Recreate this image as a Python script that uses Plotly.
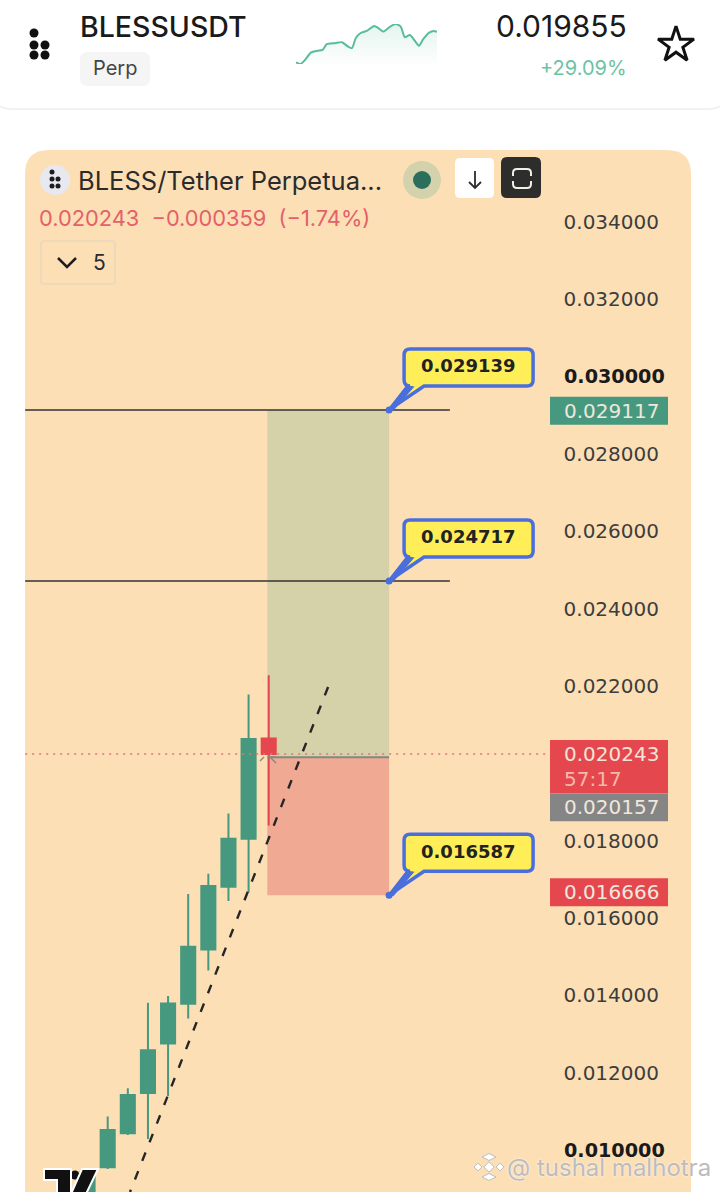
import plotly.graph_objects as go

# --- candles, oldest first, red one last ---
bar_idx = [-9, -8, -7, -6, -5, -4, -3, -2, -1, 0]
bar_open = [0.008500, 0.009552, 0.010432, 0.011474, 0.012757, 0.013784, 0.015188, 0.016810, 0.018048, 0.020645]
bar_high = [0.009450, 0.010869, 0.011598, 0.013810, 0.013985, 0.016618, 0.017143, 0.018705, 0.021778, 0.022277]
bar_low = [0.008400, 0.009509, 0.010388, 0.010282, 0.011397, 0.013398, 0.014642, 0.016442, 0.016662, 0.018390]
bar_close = [0.009431, 0.010517, 0.011422, 0.012581, 0.013791, 0.015258, 0.016828, 0.018048, 0.020627, 0.020243]

# --- trendline and long position tool ---
trend_x = [2.95, -6.89]
trend_y = [0.021974, 0.008914]
tp_levels = [0.029139, 0.024717]
stop_level = 0.016587
entry_level = 0.020157
last_price = 0.020243
pos_x = [-0.07, 5.98]
level_x = [-12.1, 9.0]
dotted_x = [-12.1, 14.0]

# --- price axis ---
tick_vals = [0.034, 0.032, 0.028, 0.026, 0.024, 0.022, 0.018, 0.016, 0.014, 0.012]
tick_text = ["0.034000", "0.032000", "0.028000", "0.026000", "0.024000",
             "0.022000", "0.018000", "0.016000", "0.014000", "0.012000"]
bold_vals = [0.030, 0.010]
bold_text = ["0.030000", "0.010000"]

# --- price tags on the axis ---
tag_vals = [0.029117, 0.020157, 0.016666]
tag_text = ["0.029117", "0.020157", "0.016666"]
tag_colors = ["#46997f", "#858585", "#e5474f"]
tag_push = [0, -50, 0]  # grey tag gets pushed under the red one

# --- header sparkline ---
spark_x = [645, 655, 665, 678, 692, 703, 712, 730, 745, 758, 767, 775, 785, 800, 815, 825, 835, 850, 862, 873, 882, 893, 905, 913, 922, 935, 945, 952]
spark_y = [12, 7, 20, 42, 47, 50, 67, 70, 73, 60, 55, 85, 100, 108, 122, 115, 105, 120, 128, 120, 88, 95, 75, 62, 82, 102, 107, 104]

GREEN = "#46997f"
RED = "#e5474f"
PANEL = "#fddfb6"
BLUE = "#4a6fdc"
TICK_FONT = "DejaVu Sans"
HEAD_FONT = "Inter"

fig = go.Figure()

fig.add_trace(go.Scatter(x=trend_x, y=trend_y, mode="lines", hoverinfo="skip",
                         line=dict(color="#262626", width=2.4, dash="9px,11px")))
for lvl in tp_levels:
    fig.add_trace(go.Scatter(x=level_x, y=[lvl, lvl], mode="lines", hoverinfo="skip",
                             line=dict(color="#333333", width=1.6)))
fig.add_trace(go.Scatter(x=pos_x, y=[entry_level, entry_level], mode="lines", hoverinfo="skip",
                         line=dict(color="#7f8a80", width=2)))
fig.add_trace(go.Scatter(x=dotted_x, y=[last_price, last_price], mode="lines", hoverinfo="skip",
                         line=dict(color="#e5737a", width=1.5, dash="2px,5px")))

fig.add_trace(go.Candlestick(x=bar_idx, open=bar_open, high=bar_high, low=bar_low, close=bar_close,
                             increasing=dict(line=dict(color=GREEN, width=2), fillcolor=GREEN),
                             decreasing=dict(line=dict(color=RED, width=2), fillcolor=RED),
                             hoverinfo="skip"))

fig.add_trace(go.Scatter(x=[pos_x[1]] * 3, y=tp_levels + [stop_level], mode="markers", hoverinfo="skip",
                         marker=dict(color=BLUE, size=7)))

# sparkline has its own small axes
fig.add_trace(go.Scatter(x=spark_x, y=spark_y, xaxis="x2", yaxis="y2", mode="lines", hoverinfo="skip",
                         line=dict(color="#58bd9a", width=2, shape="spline", smoothing=0.6), fill="tozeroy",
                         fillgradient=dict(type="vertical",
                                           colorscale=[[0, "rgba(88,189,154,0)"], [1, "rgba(88,189,154,0.16)"]])))

# page furniture is placed on a pixel sized overlay axis pair
def dots(xs, ys, size, color, symbol="circle", line=None):
    fig.add_trace(go.Scatter(x=xs, y=ys, xaxis="x3", yaxis="y3", mode="markers", hoverinfo="skip",
                             marker=dict(color=color, size=size, symbol=symbol, line=line or dict(width=0))))

dots([34, 34, 45, 34, 45], [33, 45, 45, 55, 55], 9, "#111111")
dots([55], [180], 30, "#e8e8f0")
dots([52, 52, 58, 52, 58], [172, 179, 179, 186, 186], 5, "#1d1d1d")
dots([422], [180], 38, "#d3d2ad")
dots([422], [180], 18, "#2b6e5b")
dots([676], [45], 27, "#111111", "star-open", dict(color="#111111", width=3))
dots([489], [1167], 8, "white", "diamond", dict(color="#bdbdbd", width=1))
dots([478, 500], [1167, 1167], 6, "white", "diamond", dict(color="#bdbdbd", width=1))
dots([489, 489], [1157, 1177], 10, "white", "diamond-wide", dict(color="#bdbdbd", width=1))

def rrect(x0, y0, x1, y1, r):
    return (f"M {x0+r} {y0} L {x1-r} {y0} Q {x1} {y0} {x1} {y0+r} L {x1} {y1-r} Q {x1} {y1} {x1-r} {y1} "
            f"L {x0+r} {y1} Q {x0} {y1} {x0} {y1-r} L {x0} {y0+r} Q {x0} {y0} {x0+r} {y0} Z")

def page_shape(path, fill="rgba(0,0,0,0)", line_color="rgba(0,0,0,0)", width=0):
    fig.add_shape(type="path", path=path, xref="x3", yref="y3", fillcolor=fill, layer="above",
                  line=dict(color=line_color, width=width))

# below-layer shapes on x3/y3 would cover the candles, so these go on paper
def paper_shape(path, fill="rgba(0,0,0,0)", line_color="rgba(0,0,0,0)", width=0):
    out = []
    is_x = True
    for tok in path.split():
        if tok.isalpha():
            out.append(tok)
        else:
            out.append(str(float(tok) / 720 if is_x else 1 - float(tok) / 1192))
            is_x = not is_x
    fig.add_shape(type="path", path=" ".join(out), xref="paper", yref="paper", fillcolor=fill, layer="below",
                  line=dict(color=line_color, width=width))

# panel and header card
paper_shape("M 25 1200 L 25 174 Q 25 150 49 150 L 667 150 Q 691 150 691 174 L 691 1200 Z", PANEL)
paper_shape("M 0 106 Q 3 109 12 109 L 708 109 Q 717 109 720 106", line_color="#eeeeee", width=1.5)
paper_shape(rrect(80, 52, 150, 86, 8), "#f5f5f5")

# long position zones
fig.add_shape(type="rect", x0=pos_x[0], x1=pos_x[1], y0=entry_level, y1=tp_levels[0],
              fillcolor="#d5d1a9", line=dict(width=0), layer="below")
fig.add_shape(type="rect", x0=pos_x[0], x1=pos_x[1], y0=stop_level, y1=entry_level,
              fillcolor="#f0a993", line=dict(width=0), layer="below")

# small grey marks at the entry
page_shape("M 260 761 L 264 757", line_color="#8a8a80", width=1.5)
page_shape("M 276 763 L 270 757 L 276 757", line_color="#8a8a80", width=1.5)

# buttons
page_shape(rrect(455, 158, 494, 198, 5), "white")
page_shape("M 475 171 L 475 188 M 469 182 L 475 188 L 481 182", line_color="#2d2d2b", width=1.8)
page_shape(rrect(501, 157, 541, 198, 6), "#2d2d2b")
page_shape("M 513 176 L 513 173 Q 513 169 517 169 L 527 169 Q 531 169 531 173 L 531 176 "
           "M 513 181 L 513 184 Q 513 188 517 188 L 527 188 Q 531 188 531 184 L 531 181",
           line_color="#f1eee6", width=2)
page_shape(rrect(41, 241, 115, 284, 3), line_color="#ead8bd", width=1.5)
page_shape("M 58 258 L 67 267 L 76 258", line_color="#1d1d1d", width=2.5)

# callouts, anchored to the level they mark (path in pixels, y upward)
callout = ("M 19 24 L 1 1 L 35 24 L 138 24 Q 144 24 144 30 L 144 55 Q 144 61 138 61 "
           "L 21 61 Q 15 61 15 55 L 15 30 Q 15 24 21 24 Z")
pointer = "M 1 1 L 18 24 L 24 23 L 4 0 Z"
for lvl in tp_levels + [stop_level]:
    fig.add_shape(type="path", path=callout, xsizemode="pixel", ysizemode="pixel",
                  xref="x", yref="y", xanchor=pos_x[1], yanchor=lvl,
                  fillcolor="#ffee58", line=dict(color=BLUE, width=3.5), layer="above")
    fig.add_shape(type="path", path=pointer, xsizemode="pixel", ysizemode="pixel",
                  xref="x", yref="y", xanchor=pos_x[1], yanchor=lvl,
                  fillcolor=BLUE, line=dict(color=BLUE, width=1.5), layer="above")
    fig.add_annotation(x=pos_x[1], y=lvl, xref="x", yref="y", xanchor="center", yanchor="middle",
                       xshift=79, yshift=44, showarrow=False, text=f"<b>{lvl:.6f}</b>",
                       font=dict(family="DejaVu Sans", size=18, color="#222222"))

# bold round-number ticks start level with the others, so they are placed by hand
for val, txt in zip(bold_vals, bold_text):
    fig.add_annotation(x=562, y=val, xref="x3", yref="y", xanchor="left", yanchor="middle", showarrow=False,
                       text=f"<b>{txt}</b>", font=dict(family=TICK_FONT, size=19.2, color="#1a1a1a"))

# axis price tags
for val, txt, col, push in zip(tag_vals, tag_text, tag_colors, tag_push):
    fig.add_shape(type="rect", xref="x3", x0=550, x1=668, yref="y", ysizemode="pixel", yanchor=val,
                  y0=push - 14, y1=push + 14, fillcolor=col, line=dict(width=0), layer="above")
    fig.add_annotation(x=562, y=val, xref="x3", yref="y", xanchor="left", yanchor="middle", showarrow=False,
                       yshift=push, text=txt, font=dict(family=TICK_FONT, size=20, color="#efe7dc"))
fig.add_shape(type="rect", xref="x3", x0=550, x1=668, yref="y", ysizemode="pixel", yanchor=last_price,
              y0=14, y1=-39, fillcolor=RED, line=dict(width=0), layer="above")
fig.add_annotation(x=562, y=last_price, xref="x3", yref="y", xanchor="left", yanchor="middle", showarrow=False,
                   text=f"{last_price:.6f}", font=dict(family=TICK_FONT, size=20, color="#f3e3d6"))
fig.add_annotation(x=562, y=779, xref="x3", yref="y3", xanchor="left", yanchor="middle", showarrow=False,
                   text="57:17", font=dict(family=TICK_FONT, size=20, color="#f3b9a8"))

# TradingView logo
page_shape("M 44 1169 L 71 1169 L 71 1194 L 57 1194 L 57 1180 L 44 1180 Z", "#111111", "white", 2)
page_shape("M 82 1169 L 98 1169 L 86 1194 L 71 1194 Z", "#111111", "white", 2)
dots([75], [1175], 9, "#111111")

def label(x, y, text, size, color, anchor="left", family=HEAD_FONT, shadow=None, weight=None):
    fig.add_annotation(x=x, y=y, xref="x3", yref="y3", xanchor=anchor, yanchor="middle", showarrow=False,
                       text=text, font=dict(family=family, size=size, color=color, shadow=shadow, weight=weight))

label(78, 26, "BLESSUSDT", 28.5, "#1a1a1a", weight=500)
label(115, 68, "Perp", 20, "#444444", "center")
label(629, 26, "0.019855", 30, "#1a1a1a", "right")
label(629, 68, "+29.09%", 20, "#6cc3a2", "right")
label(76, 180, "BLESS/Tether Perpetua...", 25.5, "#2b2b2b")
label(37, 218, "0.020243  \u22120.000359  (\u22121.74%)", 21.8, "#e2616a")
label(99, 262, "5", 21, "#2b2b2b", "center")
label(505, 1167, "@ tushal malhotra", 24, "#bcbcbc", shadow="0 0 2px white")

fig.update_layout(
    width=720, height=1192, margin=dict(l=0, r=0, t=0, b=0, pad=0),
    paper_bgcolor="white", plot_bgcolor="rgba(0,0,0,0)", showlegend=False, boxgap=0.3, boxgroupgap=0,
    xaxis=dict(range=[-13.35, 22.42], visible=False, rangeslider=dict(visible=False), fixedrange=True),
    yaxis=dict(range=[0.008914, 0.039741], anchor="free", position=659 / 720, side="left",
               showgrid=False, zeroline=False, showline=False, ticks="", tickmode="array",
               tickvals=tick_vals, ticktext=tick_text, fixedrange=True,
               tickfont=dict(family=TICK_FONT, size=20, color="#3d3d3d")),
    xaxis2=dict(domain=[296 / 720, 437 / 720], range=[645, 952], visible=False, anchor="y2"),
    yaxis2=dict(domain=[1 - 64 / 1192, 1 - 24 / 1192], range=[7, 128], visible=False, anchor="x2"),
    xaxis3=dict(domain=[0, 1], range=[0, 720], visible=False, anchor="y3"),
    yaxis3=dict(domain=[0, 1], range=[1192, 0], visible=False, anchor="x3"),
)

fig.write_html("out.html", config=dict(displayModeBar=False),
               post_script="document.body.style.margin='0';document.body.style.overflow='hidden';")
